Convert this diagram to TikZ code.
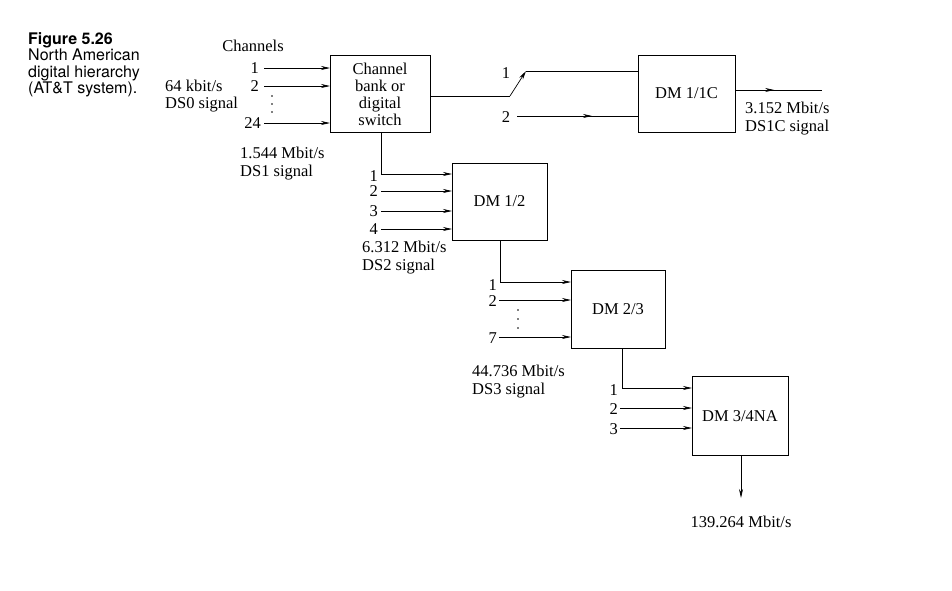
\documentclass[tikz,border=0pt]{standalone}
\usepackage{fontspec}
\setmainfont{Liberation Serif}
\newfontfamily\capfont{TeX Gyre Heros}
\usetikzlibrary{arrows.meta,decorations.markings}
\begin{document}
\begin{tikzpicture}[x=1pt,y=-1pt,
  ln/.style={line width=0.7pt},
  arr/.style={ln,-{Stealth[length=9pt,width=4pt]}},
  marr/.style={ln,postaction=decorate,decoration={markings,mark=at position #1 with {\arrow{Stealth[length=9pt,width=4pt]}}}},
  lab/.style={inner sep=0pt,font=\fontsize{16.5}{18}\selectfont},
  every node/.style={font=\fontsize{16.5}{18}\selectfont}]
\useasboundingbox (0,0) rectangle (952,590);
% caption
\node[anchor=north west,inner sep=0pt,align=left,font=\capfont\fontsize{16}{16.5}\selectfont] (cap) at (28,32)
 {{\bfseries Figure 5.26}\\North American\\digital hierarchy\\(AT\&T system).};
% boxes
\draw[ln] (330,55) rectangle (430,132);
\node[align=center,inner sep=0pt,font=\fontsize{16.5}{17}\selectfont] (cb) at (380,94) {Channel\\bank or\\digital\\switch};
\coordinate (cbE) at (430,96);
\draw[ln] (638,55) rectangle (735,132); \node (d1c) at (686.5,93) {DM 1/1C};
\draw[ln] (452,163) rectangle (547,240); \node (d12) at (499.5,201) {DM 1/2};
\draw[ln] (571,270) rectangle (665,348); \node (d23) at (618,309) {DM 2/3};
\draw[ln] (692,376) rectangle (788,455); \node (d34) at (740,416) {DM 3/4NA};
% CB inputs
\node[lab] (ch) at (253,46) {Channels};
\node[lab,anchor=east] (i1) at (259,68) {1};
\node[lab,anchor=east] (i2) at (259,86) {2};
\node[lab,anchor=east] (i24) at (261,123) {24};
\draw[arr] (264,68) -- (330,68);
\draw[arr] (264,86) -- (330,86);
\draw[arr] (264,123) -- (330,123);
\foreach \y in {96,104,112} \fill (272,\y) circle (0.9);
\node[lab,anchor=west] (k64) at (165,86) {64 kbit/s};
\node[lab,anchor=west] (ds0) at (165,105) {DS0 signal};
\node[lab,anchor=west,align=left] (ds1) at (240,164) {1.544 Mbit/s\\DS1 signal};
% switch to DM1/1C
\node[lab] (s1) at (506,73) {1};
\node[lab] (s2) at (506,117) {2};
\coordinate (sw0) at (510,96);
\coordinate (sw1) at (526,71);
\draw[ln] (cbE) -- (sw0);
\draw[arr] (sw0) -- (sw1);
\draw[ln] (sw1) -- (638,71);
\draw[marr=0.62] (517,116) -- (638,116);
\draw[marr=0.45] (735,90) -- (822,90);
\node[lab,anchor=west,align=left] (ds1c) at (745,119) {3.152 Mbit/s\\DS1C signal};
% DM1/2
\draw[arr] (381,132) |- (452,174);
\foreach \y/\t in {191/2,211/3,229/4}{
  \node[lab,anchor=east] at (378,\y) {\t};
  \draw[arr] (381,\y) -- (452,\y);}
\node[lab,anchor=east] (n1a) at (378,176) {1};
\node[lab,anchor=west,align=left] (ds2) at (362,258) {6.312 Mbit/s\\DS2 signal};
% DM2/3
\draw[arr] (500,240) |- (571,282);
\node[lab,anchor=east] (m1) at (497,285) {1};
\node[lab,anchor=east] (m2) at (497,301) {2};
\node[lab,anchor=east] (m7) at (497,338) {7};
\draw[arr] (499,300) -- (571,300);
\draw[arr] (499,337) -- (571,337);
\foreach \y in {310,319,328} \fill (518,\y) circle (0.9);
\node[lab,anchor=west,align=left] (ds3) at (472,382) {44.736 Mbit/s\\DS3 signal};
% DM3/4NA
\draw[arr] (622,348) |- (692,388);
\node[lab,anchor=east] (p1) at (618,390) {1};
\node[lab,anchor=east] (p2) at (618,409) {2};
\node[lab,anchor=east] (p3) at (618,429) {3};
\draw[arr] (620,408) -- (692,408);
\draw[arr] (620,428) -- (692,428);
\draw[arr] (741,455) -- (741,498);
\node[lab] (out) at (741,522) {139.264 Mbit/s};
\end{tikzpicture}
\end{document}
